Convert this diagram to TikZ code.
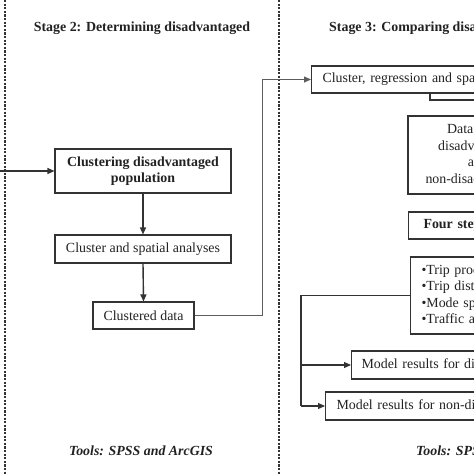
\documentclass[tikz,border=0pt]{standalone}
\usepackage{fontspec}
\setmainfont{Liberation Serif}
\usetikzlibrary{arrows.meta,positioning}
\definecolor{ink}{HTML}{222222}
\definecolor{frame}{HTML}{333333}

\begin{document}
\begin{tikzpicture}[x=1pt, y=-1pt,
        font=\fontsize{13.9}{16.5}\selectfont, text=ink,
        box/.style={draw=frame, line width=1.1pt, inner ysep=0pt},
        label/.style={inner sep=0pt, font=\fontsize{13.9}{16.5}\selectfont\bfseries},
        tools/.style={inner sep=0pt, font=\fontsize{13.9}{16.5}\selectfont\bfseries\itshape},
        link/.style={draw=frame, line width=1.1pt, -{Triangle[length=7pt,width=6pt]}},
        stagesep/.style={draw=frame, line width=1.4pt, dash pattern=on 2.2pt off 1.4pt}]
        \useasboundingbox (0,0) rectangle (474,474);
        \clip (0,0) rectangle (474,474);
        \fill[white] (0,0) rectangle (474,474);

        \draw[stagesep] (5,0) -- (5,474);
        \draw[stagesep, line width=1.1pt] (279,0) -- (279,474);

        \node[label] (title2) at (142,28) {Stage 2: Determining disadvantaged};
        \node[label, anchor=west] (title3) at (329,28) {Stage 3: Comparing disadvantaged and non-disadvantaged};

        \node[box, font=\fontsize{13.9}{16.5}\selectfont\bfseries, align=center, minimum width=176, minimum height=44] (clus) at (143,171) {Clustering disadvantaged\\population};
        \node[box, minimum width=176, minimum height=28] (anal) at (143,249) {Cluster and spatial analyses};
        \node[box, minimum width=101, minimum height=27] (cdata) at (143.5,315.5) {Clustered data};

        \node[box, anchor=west, inner xsep=11, text width=320, align=left, minimum height=27] (reg) at (311,79.5) {Cluster, regression and spatial analyses};
        \node[box, align=center, minimum width=140, minimum height=78] (dat) at (478,155) {Data of the\\disadvantaged\\and\\non-disadvantaged};
        \node[box, anchor=west, inner xsep=15, text width=200, align=left, minimum height=27, font=\fontsize{13.9}{16.5}\selectfont\bfseries] (four) at (408,225.5) {Four step model};
        \node[box, anchor=west, inner xsep=11, text width=200, align=left, minimum height=77] (steps) at (410,295.5) {\textbullet Trip production\\\textbullet Trip distribution\\\textbullet Mode split\\\textbullet Traffic assignment};
        \node[box, anchor=west, inner xsep=10, text width=380, align=left, minimum height=28] (res1) at (351,365) {Model results for disadvantaged population};
        \node[box, anchor=west, inner xsep=11, text width=400, align=left, minimum height=28] (res2) at (325,406) {Model results for non-disadvantaged population};

        \node[tools] (tools2) at (141,451) {Tools: SPSS and ArcGIS};
        \node[tools, anchor=west] (tools3) at (416,451) {Tools: SPSS};

        \coordinate (entry) at (0,171);
        \coordinate (bend) at (262,0);
        \coordinate (trunk) at (301,0);

        \draw[link] (entry) -- (clus.west);
        \draw[link, line width=1.4pt] (clus.south) -- (anal.north);
        \draw[link, line width=1.4pt] (anal.south) -- (cdata.north);
        \draw[link, line width=0.8pt, draw=frame!80] (cdata.east) -| (bend |- reg.west) -- (reg.west);
        \draw[draw=frame, line width=1.1pt] (reg.south -| 430,0) -- (430,100) -- (480,100);

        \draw[draw=frame, line width=1.4pt] (steps.west) -| (trunk |- res2.west);
        \draw[link] (trunk |- res1.west) -- (res1.west);
        \draw[link] (trunk |- res2.west) -- (res2.west);
\end{tikzpicture}
\end{document}
